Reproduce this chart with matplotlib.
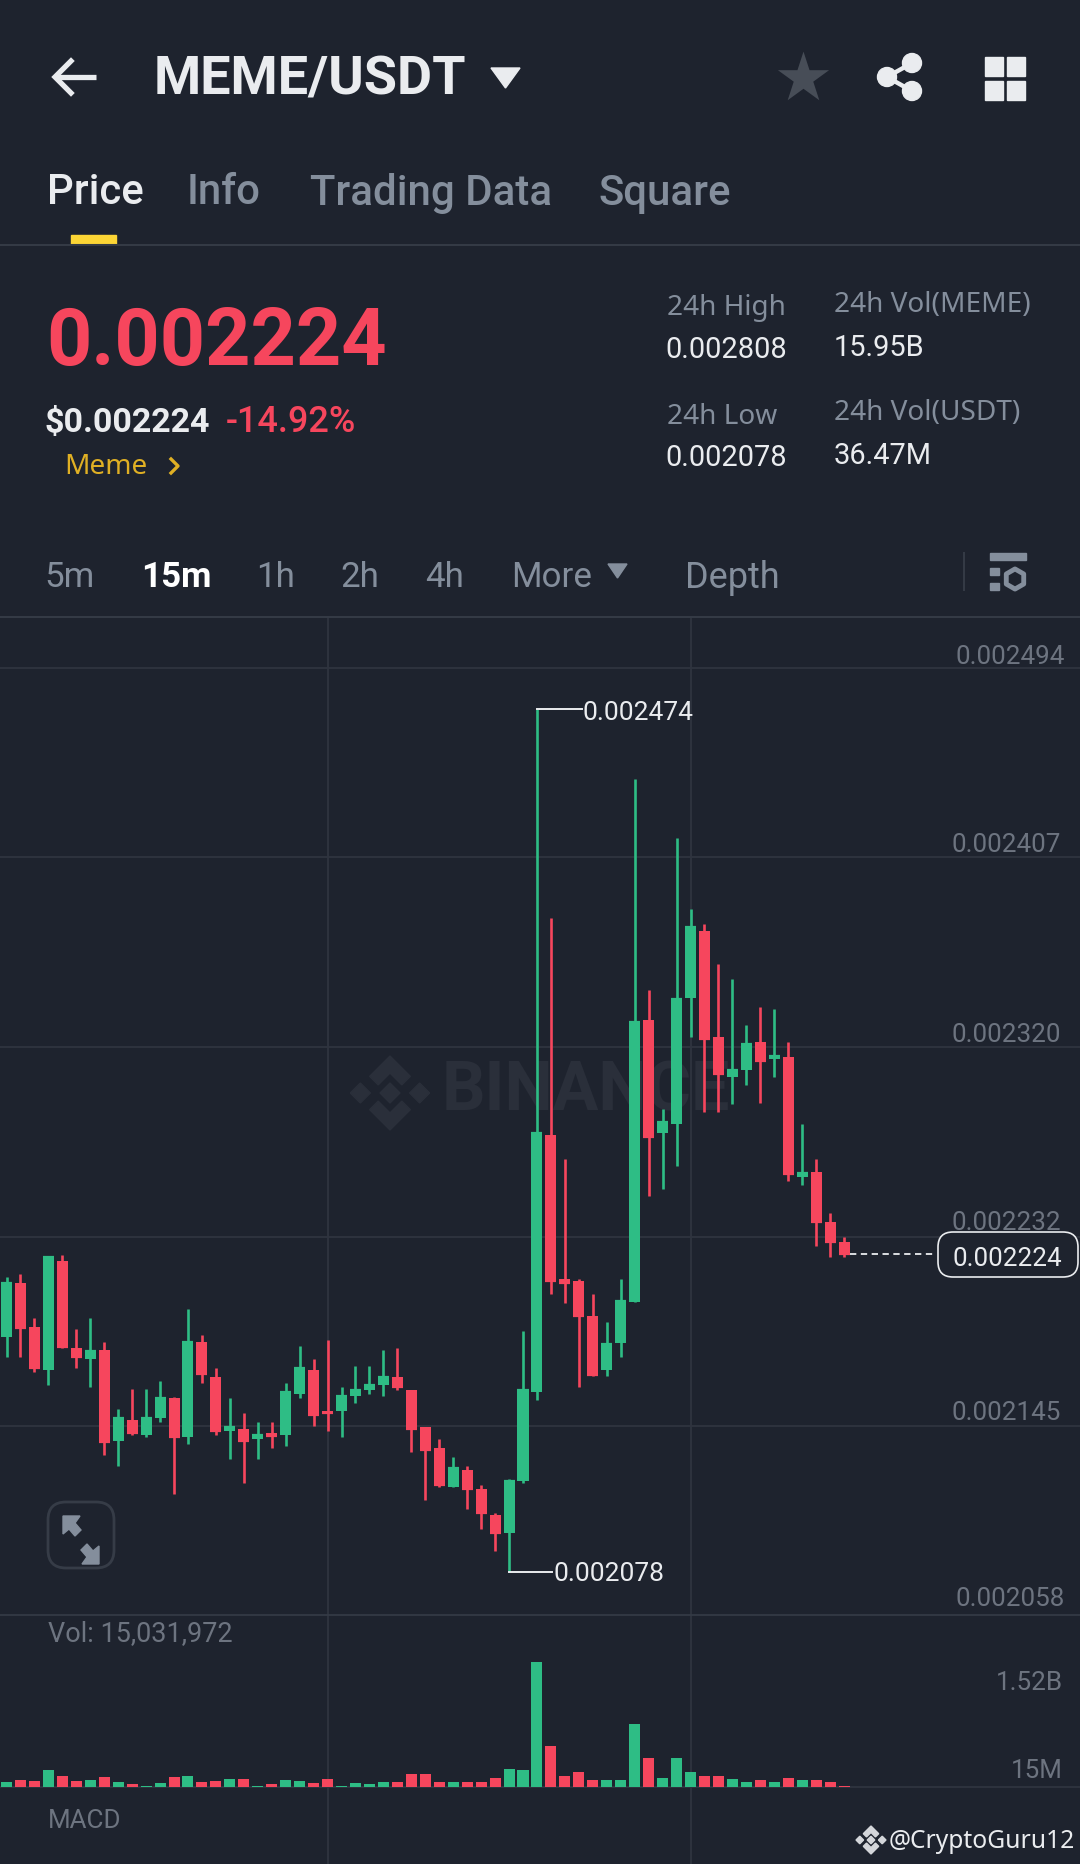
import numpy as np
import matplotlib
matplotlib.use("Agg")
import matplotlib.pyplot as plt
from matplotlib.patches import FancyBboxPatch, Polygon, Rectangle, Circle

W, H = 1080, 1864

BG = "#1e232e"
GREEN = "#2ebd85"
RED = "#f6465d"
GRID = "#2f343f"
GREY = "#848e9c"
DIM = "#6d7480"
WHITE = "#eaecef"

# candles, price in millionths of a USDT
opens = [2185.9, 2210.5, 2190.6, 2170.9, 2220.6, 2180.7, 2175.8, 2179.8, 2138.0, 2147.8,
         2140.7, 2148.7, 2157.7, 2140.0, 2183.6, 2167.7, 2142.9, 2143.8, 2138.9, 2141.8,
         2140.9, 2159.9, 2170.7, 2151.7, 2151.9, 2158.8, 2161.7, 2163.7, 2167.7, 2161.7,
         2144.7, 2134.9, 2117.0, 2124.8, 2115.9, 2104.0, 2096.0, 2119.6, 2160.8, 2278.6,
         2212.6, 2211.7, 2195.7, 2170.7, 2183.1, 2201.9, 2331.3, 2279.5, 2283.6, 2341.4,
         2372.2, 2323.5, 2305.3, 2308.4, 2321.3, 2313.5, 2314.4, 2259.4, 2261.6, 2238.7,
         2229.6]
highs = [2213.6, 2214.6, 2194.4, 2222.7, 2223.5, 2189.7, 2194.7, 2183.6, 2152.7, 2161.9,
         2161.9, 2165.7, 2158.5, 2198.7, 2186.6, 2171.6, 2157.7, 2150.8, 2146.7, 2146.7,
         2164.6, 2181.7, 2175.8, 2184.6, 2162.8, 2172.7, 2172.7, 2179.8, 2180.7, 2161.7,
         2144.7, 2138.9, 2130.9, 2126.8, 2117.9, 2104.9, 2120.8, 2188.8, 2474.0, 2378.2,
         2267.6, 2212.5, 2205.6, 2192.8, 2212.5, 2442.0, 2345.1, 2290.5, 2415.0, 2382.3,
         2375.4, 2357.0, 2350.3, 2329.2, 2337.3, 2336.4, 2321.4, 2283.6, 2267.6, 2242.8,
         2231.8]
lows = [2176.8, 2176.8, 2169.8, 2163.8, 2181.0, 2171.8, 2162.8, 2131.9, 2126.8, 2140.9,
        2140.0, 2147.0, 2114.0, 2136.9, 2164.9, 2140.9, 2130.0, 2118.9, 2130.0, 2135.1,
        2136.0, 2157.9, 2144.9, 2142.9, 2139.8, 2155.7, 2159.9, 2158.8, 2161.7, 2132.9,
        2110.9, 2116.9, 2117.0, 2106.8, 2097.9, 2087.9, 2078.0, 2118.9, 2157.0, 2205.6,
        2201.6, 2162.9, 2168.0, 2168.0, 2176.8, 2201.9, 2250.6, 2253.8, 2264.4, 2323.5,
        2289.3, 2289.3, 2292.8, 2301.5, 2293.4, 2305.3, 2257.6, 2255.6, 2227.6, 2222.7,
        2222.7]
closes = [2210.5, 2189.9, 2171.8, 2222.7, 2181.4, 2176.8, 2179.6, 2137.8, 2148.7, 2141.7,
          2148.7, 2157.7, 2140.0, 2183.7, 2168.9, 2142.9, 2144.7, 2138.0, 2140.9, 2140.4,
          2160.6, 2171.6, 2149.9, 2150.8, 2158.8, 2161.7, 2163.7, 2167.7, 2162.8, 2143.8,
          2134.0, 2117.8, 2125.7, 2116.1, 2104.9, 2096.0, 2119.9, 2161.7, 2279.6, 2211.7,
          2210.8, 2195.7, 2168.6, 2182.7, 2202.5, 2330.4, 2277.7, 2284.5, 2341.1, 2374.2,
          2322.6, 2306.6, 2308.4, 2320.3, 2312.5, 2314.8, 2260.7, 2261.1, 2238.7, 2229.6,
          2224.0]
# volume in millions
volumes = [65, 85, 73, 203, 138, 73, 89, 126, 57, 41, 8, 45, 122, 138, 57, 77, 93, 102, 8, 41,
           81, 73, 49, 102, 8, 45, 41, 57, 57, 158, 162, 61, 57, 57, 65, 114, 223, 207, 1520,
           495, 130, 179, 89, 85, 85, 771, 357, 110, 349, 179, 138, 138, 102, 61, 81, 65, 114,
           89, 81, 65, 15]

# grid sits a touch under the printed (rounded) labels
price_ticks = [2493, 2406, 2319, 2232, 2145]
price_labels = ["0.002494", "0.002407", "0.002320", "0.002232", "0.002145", "0.002058"]
time_ticks = [23, 49]
timeframes = ["5m", "15m", "1h", "2h", "4h", "More"]
tabs = ["Price", "Info", "Trading Data", "Square"]

opens = np.array(opens) / 1e6
highs = np.array(highs) / 1e6
lows = np.array(lows) / 1e6
closes = np.array(closes) / 1e6
volumes = np.array(volumes)
idx = np.arange(len(opens))
colors = [GREEN if c >= o else RED for o, c in zip(opens, closes)]

plt.rcParams["font.family"] = ["Noto Sans", "DejaVu Sans"]
fig = plt.figure(figsize=(W / 100, H / 100), dpi=100, facecolor=BG)


def px_axes(top, bottom):
    return fig.add_axes([0, 1 - bottom / H, 1, (bottom - top) / H])


# price panel
ax = px_axes(617, 1615)
ax.set_facecolor(BG)
ax.set_xlim(-0.466, 76.9)
ax.set_ylim(2058.3e-6, 2516.3e-6)
ax.axis("off")
for p in price_ticks:
    ax.axhline(p / 1e6, color=GRID, lw=1.3, zorder=1)
for t in time_ticks:
    ax.axvline(t, color=GRID, lw=1.3, zorder=1)
ax.vlines(idx, lows, highs, colors=colors, lw=1.9, zorder=3)
ax.bar(idx, np.abs(closes - opens), bottom=np.minimum(opens, closes), width=0.79,
       color=colors, zorder=3)
# doji candles still need a visible body
ax.hlines(closes, idx - 0.395, idx + 0.395, colors=colors, lw=1.6, zorder=3)

# volume panel, runs on down through the empty MACD area
vol = px_axes(1615, H)
vol.set_facecolor(BG)
vol.set_xlim(ax.get_xlim())
vol.set_ylim(-938, 2095)
vol.axis("off")
vol.axhline(0, color=GRID, lw=1.3, zorder=1)
for t in time_ticks:
    vol.axvline(t, color=GRID, lw=1.3, zorder=1)
vol.bar(idx, volumes, width=0.79, color=colors, zorder=3)

# app chrome, in pixels
ui = fig.add_axes([0, 0, 1, 1], zorder=5)
ui.set_xlim(0, W)
ui.set_ylim(H, 0)
ui.axis("off")
ui.patch.set_alpha(0)


def label(x, y, s, size, color=GREY, weight="normal", ha="left", family=None):
    kw = {"family": family} if family else {}
    ui.text(x, y + 5.5, s, fontsize=size * 0.72, color=color, fontweight=weight, ha=ha,
            va="center", **kw)


def binance_logo(target, cx, cy, r, color, zorder=6):
    d = r * 0.27
    shapes = []
    for dx in (0, -r * 0.8, r * 0.8):
        shapes.append([(cx + dx, cy - d), (cx + dx + d, cy), (cx + dx, cy + d), (cx + dx - d, cy)])
    for s in (-1, 1):
        shapes.append([(cx, cy + s * r), (cx + r * 0.55, cy + s * r * 0.45),
                       (cx + r * 0.32, cy + s * r * 0.22), (cx, cy + s * r * 0.54),
                       (cx - r * 0.32, cy + s * r * 0.22), (cx - r * 0.55, cy + s * r * 0.45)])
    for pts in shapes:
        target.add_patch(Polygon(pts, color=color, zorder=zorder, transform=ui.transData))


# header
ui.plot([56, 96], [77, 77], color=WHITE, lw=3.8, solid_capstyle="butt")
ui.plot([71, 55, 71], [61, 77, 93], color=WHITE, lw=3.8, solid_joinstyle="miter")
label(154, 75, "MEME/USDT", 54, WHITE, "bold", family="Roboto")
ui.add_patch(Polygon([(491, 68), (520, 68), (505.5, 88)], color=WHITE))
ui.scatter([803], [78], marker="*", s=1500, color="#474d57", linewidths=0)
share_x = [912, 887, 912]
share_y = [63, 77, 91]
ui.plot(share_x, share_y, color=WHITE, lw=3.2)
for sx, sy in zip(share_x, share_y):
    ui.add_patch(Circle((sx, sy), 9.5, color=WHITE))
for rx, ry in [(985, 57), (1007, 57), (985, 81), (1007, 81)]:
    ui.add_patch(Rectangle((rx, ry), 18, 19, color=WHITE))

# tabs
for tab, tx, tc in zip(tabs, [47, 187, 310, 598], [WHITE, GREY, GREY, GREY]):
    label(tx, 187.5, tab, 42, tc, "medium", family="Roboto")
ui.add_patch(Rectangle((71, 235), 45, 9, color="#fcd535"))
ui.plot([0, W], [245, 245], color="#343a45", lw=1.5)

# ticker block
label(46, 338, "0.002224", 79, RED, "bold", family="Roboto")
label(45, 417, "$0.002224", 34, WHITE, "bold", family="Roboto")
label(226, 417, "-14.92%", 36, RED, "medium", family="Roboto")
label(64, 462, "Meme", 28, "#e0b024")
ui.plot([171, 178, 171], [459, 466, 473], color="#e0b024", lw=2.4)
label(667, 303, "24h High", 28, GREY)
label(665, 345, "0.002808", 29, WHITE, family="Roboto")
label(667, 412, "24h Low", 28, GREY)
label(665, 453, "0.002078", 29, WHITE, family="Roboto")
label(834, 300, "24h Vol(MEME)", 28, GREY)
label(834, 342, "15.95B", 29, WHITE, family="Roboto")
label(834, 408, "24h Vol(USDT)", 28, GREY)
label(834, 450, "36.47M", 29, WHITE, family="Roboto")

# interval row
for tf, tx in zip(timeframes, [44, 141, 256, 340, 425, 511]):
    active = tf == "15m"
    label(tx, 572, tf, 35, "white" if active else GREY, "bold" if active else "normal", family="Roboto")
ui.add_patch(Polygon([(608, 564), (627, 564), (617.5, 578)], color=GREY))
label(685, 572, "Depth", 36, GREY, family="Roboto")
ui.plot([964, 964], [553, 590], color="#343a45", lw=1.5)
ui.add_patch(Rectangle((990, 553), 36, 7, color=GREY))
ui.add_patch(Rectangle((990, 568), 9, 7, color=GREY))
ui.add_patch(Rectangle((990, 583), 9, 7, color=GREY))
ui.scatter([1015], [579], marker="h", s=210, facecolor="none", edgecolor=GREY, linewidths=3.5)
ui.plot([0, W], [617, 617], color="#343a45", lw=1.5)
ui.plot([0, W], [1615, 1615], color="#343a45", lw=1.3)

# axis labels
for pl, py, pr in zip(price_labels, [651, 840, 1029, 1218, 1407, 1594],
                      [1065, 1061, 1061, 1061, 1061, 1065]):
    label(pr, py, pl, 26, DIM, ha="right", family="Roboto")
label(1063, 1678, "1.52B", 26, DIM, ha="right", family="Roboto")
label(1063, 1766, "15M", 26, DIM, ha="right", family="Roboto")
label(48, 1628, "Vol: 15,031,972", 27, DIM, family="Roboto")
label(48, 1816, "MACD", 26, DIM, family="Roboto")

# extreme markers on the price axes
hi_i = int(np.argmax(highs))
lo_i = int(np.argmin(lows))
ax.plot([hi_i, hi_i + 3.2], [highs[hi_i]] * 2, color=WHITE, lw=1.4, zorder=4)
ax.plot([lo_i, lo_i + 3.1], [lows[lo_i]] * 2, color=WHITE, lw=1.4, zorder=4)
ax.annotate("0.002474", (hi_i + 3.25, highs[hi_i]), xytext=(0, -3), textcoords="offset points",
            color=WHITE, fontsize=19, va="center", family="Roboto")
ax.annotate("0.002078", (lo_i + 3.15, lows[lo_i]), xytext=(0, -1.5), textcoords="offset points",
            color=WHITE, fontsize=19, va="center", family="Roboto")

# last price line and pill
last = closes[-1]
ax.plot([idx[-1] + 0.4, 66.6], [last, last], color=WHITE, lw=1.3, ls=(0, (3.5, 2.5)), zorder=4)
ui.add_patch(FancyBboxPatch((938, 1232), 140, 45, boxstyle="round,pad=0,rounding_size=15",
                            facecolor=BG, edgecolor=WHITE, lw=1.2))
label(1007, 1254, "0.002224", 26, WHITE, ha="center", family="Roboto")

# watermark sits under the candles
ax.text(442, 1092, "BINANCE", transform=ui.transData, fontsize=49, fontweight="bold",
        color="#2a2f3a", va="center", zorder=0, family="Roboto")
binance_logo(ax, 390, 1093, 37, "#2a2f3a", zorder=0)

# expand button
ui.add_patch(FancyBboxPatch((60, 1514), 42, 42, boxstyle="round,pad=12,rounding_size=18",
                            facecolor="none", edgecolor="#363c47", lw=2))
ui.add_patch(Polygon([(63, 1516), (80, 1516), (75, 1523), (81, 1530), (75, 1536), (69, 1529), (63, 1534)],
                     color=GREY))
ui.add_patch(Polygon([(99, 1564), (82, 1564), (87, 1557), (81, 1550), (87, 1544), (93, 1551), (99, 1546)],
                     color=GREY))

# credit
binance_logo(ui, 871, 1840, 14, "#d4d6da")
label(889, 1836, "@CryptoGuru12", 24.6, WHITE)

fig.savefig("out.png", dpi=100, facecolor=BG)
